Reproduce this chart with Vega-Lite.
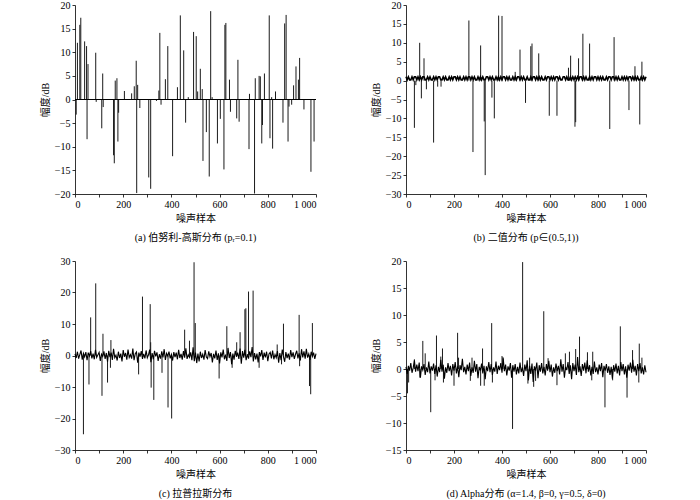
{
  "$schema": "https://vega.github.io/schema/vega-lite/v6.json",
  "padding": {"left": 40, "top": 0, "right": 5, "bottom": 5},
  "background": "white",
  "config": {
    "view": {"stroke": null},
    "font": "Liberation Serif, Noto Sans CJK SC",
    "axis": {
      "grid": false,
      "domainColor": "black",
      "tickColor": "black",
      "labelColor": "black",
      "titleColor": "black",
      "labelFont": "Liberation Serif",
      "labelFontSize": 10,
      "titleFont": "Liberation Serif, Noto Sans CJK SC",
      "titleFontSize": 10,
      "titleFontWeight": "normal",
      "tickSize": 3,
      "domainWidth": 0.8,
      "tickWidth": 0.8,
      "labelPadding": 2,
      "titlePadding": 4
    },
    "title": {"font": "Liberation Serif, Noto Sans CJK SC", "fontSize": 10, "fontWeight": "normal", "color": "black", "orient": "bottom", "offset": 10}
  },
  "datasets": {
    "a_base": [{"x": 0, "y": 0}, {"x": 1000, "y": 0}],
    "a_spikes": [
      {"x": 5, "y": -3.2}, {"x": 10, "y": 12.0}, {"x": 20, "y": 15.8}, {"x": 24, "y": 17.3}, {"x": 40, "y": 12.3},
      {"x": 48, "y": 11.3}, {"x": 50, "y": -8.4}, {"x": 54, "y": 7.5}, {"x": 86, "y": 9.9}, {"x": 88, "y": -0.5},
      {"x": 111, "y": -6.1}, {"x": 115, "y": 5.5}, {"x": 117, "y": -1.6}, {"x": 160, "y": -11.8}, {"x": 163, "y": -13.5},
      {"x": 167, "y": 4.0}, {"x": 174, "y": 4.5}, {"x": 178, "y": -8.9}, {"x": 181, "y": -2.8}, {"x": 205, "y": 1.8},
      {"x": 235, "y": 1.3}, {"x": 246, "y": 2.8}, {"x": 254, "y": 8.2}, {"x": 256, "y": -19.8}, {"x": 260, "y": 3.1},
      {"x": 269, "y": -1.8}, {"x": 306, "y": -16.5}, {"x": 314, "y": -18.9}, {"x": 338, "y": -0.3}, {"x": 348, "y": 1.9},
      {"x": 352, "y": 14.1}, {"x": 357, "y": -1.1}, {"x": 375, "y": 4.3}, {"x": 385, "y": 11.3}, {"x": 405, "y": -12.0},
      {"x": 425, "y": 2.6}, {"x": 437, "y": 17.8}, {"x": 451, "y": 10.4}, {"x": 459, "y": -4.9}, {"x": 470, "y": 0.5},
      {"x": 492, "y": 14.3}, {"x": 503, "y": 13.4}, {"x": 509, "y": 1.7}, {"x": 520, "y": 6.5}, {"x": 528, "y": 2.2},
      {"x": 531, "y": -13.0}, {"x": 545, "y": -6.9}, {"x": 557, "y": -16.3}, {"x": 563, "y": 18.7}, {"x": 569, "y": 0.5},
      {"x": 591, "y": -9.3}, {"x": 603, "y": -4.1}, {"x": 618, "y": -14.8}, {"x": 622, "y": 15.8}, {"x": 626, "y": 16.2},
      {"x": 641, "y": 4.2}, {"x": 645, "y": -2.6}, {"x": 671, "y": -4.0}, {"x": 676, "y": 8.4}, {"x": 681, "y": -4.7},
      {"x": 722, "y": -10.5}, {"x": 724, "y": 1.2}, {"x": 745, "y": -19.9}, {"x": 748, "y": 4.5}, {"x": 764, "y": 5.0},
      {"x": 769, "y": 4.9}, {"x": 775, "y": -9.3}, {"x": 778, "y": -5.4}, {"x": 786, "y": 5.5}, {"x": 806, "y": 17.8},
      {"x": 809, "y": -8.2}, {"x": 816, "y": 0.5}, {"x": 820, "y": -10.4}, {"x": 832, "y": 1.7}, {"x": 863, "y": -4.9},
      {"x": 870, "y": 16.1}, {"x": 876, "y": 17.9}, {"x": 884, "y": -8.9}, {"x": 888, "y": -1.5}, {"x": 899, "y": -1.1},
      {"x": 907, "y": 3.0}, {"x": 917, "y": 7.0}, {"x": 927, "y": 4.2}, {"x": 932, "y": 8.8}, {"x": 950, "y": -2.1},
      {"x": 979, "y": -15.3}, {"x": 992, "y": -8.9}
    ],
    "b_base": [
      {"x": 0, "y": 1}, {"x": 5, "y": 0.2}, {"x": 10, "y": 1}, {"x": 15, "y": 0.2}, {"x": 20, "y": 0.2}, {"x": 25, "y": 1}, {"x": 30, "y": 0.2}, {"x": 35, "y": 1}, {"x": 40, "y": 1}, {"x": 45, "y": 0.2},
      {"x": 50, "y": 1}, {"x": 55, "y": 0.2}, {"x": 60, "y": 1}, {"x": 65, "y": 0.2}, {"x": 70, "y": 1}, {"x": 75, "y": 1}, {"x": 80, "y": 0.2}, {"x": 85, "y": 0.2}, {"x": 90, "y": 1}, {"x": 95, "y": 0.2},
      {"x": 100, "y": 1}, {"x": 105, "y": 0.2}, {"x": 110, "y": 0.2}, {"x": 115, "y": 1}, {"x": 120, "y": 0.2}, {"x": 125, "y": 1}, {"x": 130, "y": 0.2}, {"x": 135, "y": 1}, {"x": 140, "y": 1}, {"x": 145, "y": 0.2},
      {"x": 150, "y": 0.2}, {"x": 155, "y": 1}, {"x": 160, "y": 0.2}, {"x": 165, "y": 1}, {"x": 170, "y": 0.2}, {"x": 175, "y": 0.2}, {"x": 180, "y": 1}, {"x": 185, "y": 0.2}, {"x": 190, "y": 1}, {"x": 195, "y": 0.2},
      {"x": 200, "y": 1}, {"x": 205, "y": 1}, {"x": 210, "y": 0.2}, {"x": 215, "y": 1}, {"x": 220, "y": 0.2}, {"x": 225, "y": 1}, {"x": 230, "y": 0.2}, {"x": 235, "y": 0.2}, {"x": 240, "y": 1}, {"x": 245, "y": 0.2},
      {"x": 250, "y": 1}, {"x": 255, "y": 0.2}, {"x": 260, "y": 1}, {"x": 265, "y": 1}, {"x": 270, "y": 0.2}, {"x": 275, "y": 1}, {"x": 280, "y": 0.2}, {"x": 285, "y": 1}, {"x": 290, "y": 0.2}, {"x": 295, "y": 0.2},
      {"x": 300, "y": 1}, {"x": 305, "y": 0.2}, {"x": 310, "y": 1}, {"x": 315, "y": 0.2}, {"x": 320, "y": 1}, {"x": 325, "y": 0.2}, {"x": 330, "y": 0.2}, {"x": 335, "y": 1}, {"x": 340, "y": 1}, {"x": 345, "y": 0.2},
      {"x": 350, "y": 1}, {"x": 355, "y": 0.2}, {"x": 360, "y": 1}, {"x": 365, "y": 0.2}, {"x": 370, "y": 0.2}, {"x": 375, "y": 1}, {"x": 380, "y": 0.2}, {"x": 385, "y": 1}, {"x": 390, "y": 0.2}, {"x": 395, "y": 1},
      {"x": 400, "y": 0.2}, {"x": 405, "y": 1}, {"x": 410, "y": 1}, {"x": 415, "y": 0.2}, {"x": 420, "y": 1}, {"x": 425, "y": 0.2}, {"x": 430, "y": 1}, {"x": 435, "y": 0.2}, {"x": 440, "y": 0.2}, {"x": 445, "y": 1},
      {"x": 450, "y": 0.2}, {"x": 455, "y": 1}, {"x": 460, "y": 0.2}, {"x": 465, "y": 1}, {"x": 470, "y": 1}, {"x": 475, "y": 0.2}, {"x": 480, "y": 1}, {"x": 485, "y": 0.2}, {"x": 490, "y": 1}, {"x": 495, "y": 0.2},
      {"x": 500, "y": 0.2}, {"x": 505, "y": 1}, {"x": 510, "y": 0.2}, {"x": 515, "y": 0.2}, {"x": 520, "y": 1}, {"x": 525, "y": 0.2}, {"x": 530, "y": 1}, {"x": 535, "y": 1}, {"x": 540, "y": 0.2}, {"x": 545, "y": 1},
      {"x": 550, "y": 0.2}, {"x": 555, "y": 1}, {"x": 560, "y": 0.2}, {"x": 565, "y": 1}, {"x": 570, "y": 0.2}, {"x": 575, "y": 0.2}, {"x": 580, "y": 1}, {"x": 585, "y": 0.2}, {"x": 590, "y": 1}, {"x": 595, "y": 1},
      {"x": 600, "y": 0.2}, {"x": 605, "y": 1}, {"x": 610, "y": 0.2}, {"x": 615, "y": 1}, {"x": 620, "y": 0.2}, {"x": 625, "y": 1}, {"x": 630, "y": 1}, {"x": 635, "y": 0.2}, {"x": 640, "y": 1}, {"x": 645, "y": 0.2},
      {"x": 650, "y": 0.2}, {"x": 655, "y": 1}, {"x": 660, "y": 1}, {"x": 665, "y": 0.2}, {"x": 670, "y": 1}, {"x": 675, "y": 0.2}, {"x": 680, "y": 0.2}, {"x": 685, "y": 1}, {"x": 690, "y": 0.2}, {"x": 695, "y": 1},
      {"x": 700, "y": 0.2}, {"x": 705, "y": 1}, {"x": 710, "y": 0.2}, {"x": 715, "y": 1}, {"x": 720, "y": 0.2}, {"x": 725, "y": 1}, {"x": 730, "y": 1}, {"x": 735, "y": 0.2}, {"x": 740, "y": 1}, {"x": 745, "y": 0.2},
      {"x": 750, "y": 1}, {"x": 755, "y": 0.2}, {"x": 760, "y": 0.2}, {"x": 765, "y": 1}, {"x": 770, "y": 0.2}, {"x": 775, "y": 1}, {"x": 780, "y": 0.2}, {"x": 785, "y": 1}, {"x": 790, "y": 1}, {"x": 795, "y": 0.2},
      {"x": 800, "y": 1}, {"x": 805, "y": 0.2}, {"x": 810, "y": 1}, {"x": 815, "y": 0.2}, {"x": 820, "y": 1}, {"x": 825, "y": 0.2}, {"x": 830, "y": 0.2}, {"x": 835, "y": 1}, {"x": 840, "y": 0.2}, {"x": 845, "y": 1},
      {"x": 850, "y": 1}, {"x": 855, "y": 0.2}, {"x": 860, "y": 1}, {"x": 865, "y": 1}, {"x": 870, "y": 0.2}, {"x": 875, "y": 1}, {"x": 880, "y": 0.2}, {"x": 885, "y": 1}, {"x": 890, "y": 0.2}, {"x": 895, "y": 0.2},
      {"x": 900, "y": 1}, {"x": 905, "y": 0.2}, {"x": 910, "y": 1}, {"x": 915, "y": 0.2}, {"x": 920, "y": 1}, {"x": 925, "y": 0.2}, {"x": 930, "y": 1}, {"x": 935, "y": 1}, {"x": 940, "y": 0.2}, {"x": 945, "y": 1},
      {"x": 950, "y": 0.2}, {"x": 955, "y": 1}, {"x": 960, "y": 0.2}, {"x": 965, "y": 1}, {"x": 970, "y": 0.2}, {"x": 975, "y": 0.2}, {"x": 980, "y": 1}, {"x": 985, "y": 0.2}, {"x": 990, "y": 1}, {"x": 995, "y": 0.2},
      {"x": 1000, "y": 1}
    ],
    "b_spikes": [
      {"x": 35, "y": -12.5}, {"x": 41, "y": -1.2}, {"x": 57, "y": 10.0}, {"x": 64, "y": -4.7}, {"x": 75, "y": 5.9},
      {"x": 85, "y": -2.3}, {"x": 115, "y": -16.4}, {"x": 132, "y": -1.6}, {"x": 146, "y": -1.6}, {"x": 262, "y": 15.9},
      {"x": 279, "y": -18.9}, {"x": 311, "y": 9.3}, {"x": 326, "y": -10.8}, {"x": 330, "y": -25.0}, {"x": 358, "y": -4.5},
      {"x": 368, "y": -10.0}, {"x": 386, "y": 17.2}, {"x": 400, "y": 17.1}, {"x": 455, "y": 2.3}, {"x": 475, "y": 8.2},
      {"x": 498, "y": -5.9}, {"x": 520, "y": 9.1}, {"x": 525, "y": 9.8}, {"x": 553, "y": 7.2}, {"x": 597, "y": -9.3},
      {"x": 629, "y": -9.3}, {"x": 677, "y": 3.4}, {"x": 686, "y": 6.6}, {"x": 704, "y": -12.2}, {"x": 707, "y": -11.0},
      {"x": 719, "y": 5.9}, {"x": 737, "y": 12.4}, {"x": 765, "y": 9.8}, {"x": 849, "y": -12.8}, {"x": 867, "y": 11.5},
      {"x": 929, "y": -7.8}, {"x": 954, "y": 3.8}, {"x": 974, "y": -11.6}, {"x": 983, "y": 5.0}
    ],
    "c_noise": [
      {"x": 0, "y": 0.5}, {"x": 5, "y": -0.8}, {"x": 10, "y": 1.2}, {"x": 15, "y": -1.0}, {"x": 20, "y": 0.3}, {"x": 25, "y": 1.6}, {"x": 30, "y": -1.3}, {"x": 35, "y": 0.7}, {"x": 40, "y": -0.4}, {"x": 45, "y": 1.1},
      {"x": 50, "y": -1.5}, {"x": 55, "y": 0.9}, {"x": 60, "y": -0.2}, {"x": 65, "y": 1.4}, {"x": 70, "y": -0.9}, {"x": 75, "y": 0.6}, {"x": 80, "y": -1.2}, {"x": 85, "y": 1.8}, {"x": 90, "y": -0.6}, {"x": 95, "y": 0.2},
      {"x": 100, "y": 1.0}, {"x": 105, "y": -1.7}, {"x": 110, "y": 0.4}, {"x": 115, "y": -0.3}, {"x": 120, "y": 1.3}, {"x": 125, "y": -1.1}, {"x": 130, "y": 0.8}, {"x": 135, "y": -2.0}, {"x": 140, "y": 1.5}, {"x": 145, "y": -0.5},
      {"x": 150, "y": 0.9}, {"x": 155, "y": -1.4}, {"x": 160, "y": 2.1}, {"x": 165, "y": -0.7}, {"x": 170, "y": 0.1}, {"x": 175, "y": -1.6}, {"x": 180, "y": 1.2}, {"x": 185, "y": -0.8}, {"x": 190, "y": 0.6}, {"x": 195, "y": -1.9},
      {"x": 200, "y": 1.7}, {"x": 205, "y": -0.4}, {"x": 210, "y": 0.8}, {"x": 215, "y": -1.3}, {"x": 220, "y": 1.9}, {"x": 225, "y": -0.6}, {"x": 230, "y": 0.3}, {"x": 235, "y": -1.0}, {"x": 240, "y": 2.2}, {"x": 245, "y": -1.5},
      {"x": 250, "y": 0.6}, {"x": 255, "y": 1.1}, {"x": 260, "y": -2.3}, {"x": 265, "y": 0.9}, {"x": 270, "y": -0.4}, {"x": 275, "y": 1.4}, {"x": 280, "y": -1.1}, {"x": 285, "y": 0.5}, {"x": 290, "y": -0.9}, {"x": 295, "y": 1.6},
      {"x": 300, "y": -0.7}, {"x": 305, "y": 0.2}, {"x": 310, "y": 1.9}, {"x": 315, "y": -2.1}, {"x": 320, "y": 0.8}, {"x": 325, "y": -1.2}, {"x": 330, "y": 1.5}, {"x": 335, "y": -0.3}, {"x": 340, "y": 1.0}, {"x": 345, "y": -1.7},
      {"x": 350, "y": 0.4}, {"x": 355, "y": -1.0}, {"x": 360, "y": 1.3}, {"x": 365, "y": -0.6}, {"x": 370, "y": 2.0}, {"x": 375, "y": -1.4}, {"x": 380, "y": 0.7}, {"x": 385, "y": -0.2}, {"x": 390, "y": 1.2}, {"x": 395, "y": -0.9},
      {"x": 400, "y": 0.3}, {"x": 405, "y": -1.6}, {"x": 410, "y": 1.1}, {"x": 415, "y": -0.5}, {"x": 420, "y": 0.9}, {"x": 425, "y": -1.2}, {"x": 430, "y": 1.8}, {"x": 435, "y": -0.8}, {"x": 440, "y": 0.5}, {"x": 445, "y": -1.3},
      {"x": 450, "y": 1.4}, {"x": 455, "y": -0.7}, {"x": 460, "y": 2.3}, {"x": 465, "y": -1.1}, {"x": 470, "y": 0.2}, {"x": 475, "y": -0.6}, {"x": 480, "y": 1.0}, {"x": 485, "y": -1.5}, {"x": 490, "y": 2.6}, {"x": 495, "y": -1.8},
      {"x": 500, "y": 0.9}, {"x": 505, "y": -2.4}, {"x": 510, "y": 0.6}, {"x": 515, "y": -1.9}, {"x": 520, "y": 1.2}, {"x": 525, "y": -0.8}, {"x": 530, "y": 0.4}, {"x": 535, "y": -1.3}, {"x": 540, "y": 1.7}, {"x": 545, "y": -0.5},
      {"x": 550, "y": -1.0}, {"x": 555, "y": 1.3}, {"x": 560, "y": -0.4}, {"x": 565, "y": 0.8}, {"x": 570, "y": -2.2}, {"x": 575, "y": 0.5}, {"x": 580, "y": -0.9}, {"x": 585, "y": 1.6}, {"x": 590, "y": -1.4}, {"x": 595, "y": 0.7},
      {"x": 600, "y": -2.5}, {"x": 605, "y": 1.0}, {"x": 610, "y": -0.6}, {"x": 615, "y": 1.9}, {"x": 620, "y": -1.2}, {"x": 625, "y": 0.3}, {"x": 630, "y": -1.7}, {"x": 635, "y": 2.4}, {"x": 640, "y": -0.8}, {"x": 645, "y": 1.1},
      {"x": 650, "y": -2.8}, {"x": 655, "y": 0.6}, {"x": 660, "y": -1.3}, {"x": 665, "y": 1.5}, {"x": 670, "y": -0.4}, {"x": 675, "y": 0.9}, {"x": 680, "y": -1.1}, {"x": 685, "y": 2.2}, {"x": 690, "y": -2.6}, {"x": 695, "y": 1.4},
      {"x": 700, "y": -0.7}, {"x": 705, "y": 1.8}, {"x": 710, "y": -1.5}, {"x": 715, "y": 0.4}, {"x": 720, "y": -1.0}, {"x": 725, "y": 1.3}, {"x": 730, "y": -0.5}, {"x": 735, "y": 2.7}, {"x": 740, "y": -1.9}, {"x": 745, "y": 0.8},
      {"x": 750, "y": -1.2}, {"x": 755, "y": 0.6}, {"x": 760, "y": -2.2}, {"x": 765, "y": 1.1}, {"x": 770, "y": -0.3}, {"x": 775, "y": 1.7}, {"x": 780, "y": -1.4}, {"x": 785, "y": 0.9}, {"x": 790, "y": -0.6}, {"x": 795, "y": 1.2},
      {"x": 800, "y": -1.8}, {"x": 805, "y": 0.5}, {"x": 810, "y": 1.0}, {"x": 815, "y": -0.9}, {"x": 820, "y": 1.6}, {"x": 825, "y": -1.2}, {"x": 830, "y": 0.3}, {"x": 835, "y": -0.7}, {"x": 840, "y": 1.4}, {"x": 845, "y": -2.3},
      {"x": 850, "y": 0.8}, {"x": 855, "y": -1.5}, {"x": 860, "y": 1.9}, {"x": 865, "y": -0.4}, {"x": 870, "y": -2.0}, {"x": 875, "y": 1.1}, {"x": 880, "y": -0.8}, {"x": 885, "y": 0.6}, {"x": 890, "y": -1.3}, {"x": 895, "y": 1.7},
      {"x": 900, "y": -0.5}, {"x": 905, "y": 1.0}, {"x": 910, "y": -1.1}, {"x": 915, "y": 0.4}, {"x": 920, "y": 1.5}, {"x": 925, "y": -0.9}, {"x": 930, "y": 0.7}, {"x": 935, "y": -1.6}, {"x": 940, "y": 2.0}, {"x": 945, "y": -0.6},
      {"x": 950, "y": 1.3}, {"x": 955, "y": -1.0}, {"x": 960, "y": 2.1}, {"x": 965, "y": -0.7}, {"x": 970, "y": 0.5}, {"x": 975, "y": -1.4}, {"x": 980, "y": 1.2}, {"x": 985, "y": -0.3}, {"x": 990, "y": 0.9}, {"x": 995, "y": -1.1},
      {"x": 1000, "y": 0.6}
    ],
    "c_spikes": [
      {"x": 35, "y": -25.0}, {"x": 58, "y": -9.2}, {"x": 65, "y": 12.1}, {"x": 86, "y": 22.9}, {"x": 112, "y": -12.8},
      {"x": 116, "y": 6.9}, {"x": 135, "y": -8.6}, {"x": 147, "y": -3.9}, {"x": 149, "y": 4.9}, {"x": 264, "y": -6.0},
      {"x": 280, "y": 18.7}, {"x": 312, "y": 16.3}, {"x": 314, "y": 4.2}, {"x": 316, "y": -10.2}, {"x": 327, "y": -14.1},
      {"x": 361, "y": -5.5}, {"x": 386, "y": -16.5}, {"x": 401, "y": -20.0}, {"x": 455, "y": 8.2}, {"x": 475, "y": 4.7},
      {"x": 494, "y": 29.6}, {"x": 499, "y": 10.3}, {"x": 598, "y": -7.3}, {"x": 630, "y": 9.3}, {"x": 652, "y": -3.9},
      {"x": 671, "y": 4.2}, {"x": 685, "y": 7.4}, {"x": 705, "y": 14.7}, {"x": 709, "y": 15.0}, {"x": 720, "y": 20.3},
      {"x": 739, "y": 20.6}, {"x": 764, "y": -3.9}, {"x": 839, "y": 3.5}, {"x": 857, "y": -2.8}, {"x": 865, "y": 10.1},
      {"x": 930, "y": 12.9}, {"x": 932, "y": -3.4}, {"x": 973, "y": -9.7}, {"x": 978, "y": -12.3}, {"x": 985, "y": 10.3}
    ],
    "d_noise": [
      {"x": 0, "y": 0.4}, {"x": 5, "y": -0.9}, {"x": 10, "y": 0.6}, {"x": 15, "y": -0.3}, {"x": 20, "y": 1.1}, {"x": 25, "y": -0.7}, {"x": 30, "y": 0.2}, {"x": 35, "y": 1.6}, {"x": 40, "y": -0.5}, {"x": 45, "y": 0.8},
      {"x": 50, "y": -0.4}, {"x": 55, "y": 1.2}, {"x": 60, "y": -1.6}, {"x": 65, "y": 0.5}, {"x": 70, "y": -0.2}, {"x": 75, "y": 0.9}, {"x": 80, "y": -1.1}, {"x": 85, "y": 0.3}, {"x": 90, "y": -0.6}, {"x": 95, "y": 1.4},
      {"x": 100, "y": -0.8}, {"x": 105, "y": 0.5}, {"x": 110, "y": -0.3}, {"x": 115, "y": 1.0}, {"x": 120, "y": -0.9}, {"x": 125, "y": 0.7}, {"x": 130, "y": -1.4}, {"x": 135, "y": 0.4}, {"x": 140, "y": -0.6}, {"x": 145, "y": 1.7},
      {"x": 150, "y": -0.5}, {"x": 155, "y": 0.8}, {"x": 160, "y": -1.8}, {"x": 165, "y": 0.3}, {"x": 170, "y": -0.7}, {"x": 175, "y": 1.1}, {"x": 180, "y": -0.4}, {"x": 185, "y": 0.6}, {"x": 190, "y": -1.2}, {"x": 195, "y": 0.9},
      {"x": 200, "y": -0.3}, {"x": 205, "y": 1.3}, {"x": 210, "y": -0.8}, {"x": 215, "y": 0.5}, {"x": 220, "y": -1.5}, {"x": 225, "y": 0.7}, {"x": 230, "y": -0.2}, {"x": 235, "y": 1.9}, {"x": 240, "y": -0.6}, {"x": 245, "y": 0.4},
      {"x": 250, "y": -1.0}, {"x": 255, "y": 0.8}, {"x": 260, "y": -0.4}, {"x": 265, "y": 1.2}, {"x": 270, "y": -1.3}, {"x": 275, "y": 0.3}, {"x": 280, "y": -0.7}, {"x": 285, "y": 1.5}, {"x": 290, "y": -0.5}, {"x": 295, "y": 0.9},
      {"x": 300, "y": -1.7}, {"x": 305, "y": 0.4}, {"x": 310, "y": -0.3}, {"x": 315, "y": 1.0}, {"x": 320, "y": -0.8}, {"x": 325, "y": 0.6}, {"x": 330, "y": -1.9}, {"x": 335, "y": 0.5}, {"x": 340, "y": -0.4}, {"x": 345, "y": 1.3},
      {"x": 350, "y": -0.6}, {"x": 355, "y": 0.9}, {"x": 360, "y": -1.1}, {"x": 365, "y": 0.3}, {"x": 370, "y": -0.5}, {"x": 375, "y": 1.4}, {"x": 380, "y": -0.9}, {"x": 385, "y": 0.6}, {"x": 390, "y": -0.2}, {"x": 395, "y": 1.1},
      {"x": 400, "y": -0.7}, {"x": 405, "y": 2.0}, {"x": 410, "y": -0.4}, {"x": 415, "y": 0.8}, {"x": 420, "y": -1.2}, {"x": 425, "y": 0.5}, {"x": 430, "y": -0.3}, {"x": 435, "y": 1.1}, {"x": 440, "y": -1.6}, {"x": 445, "y": 0.7},
      {"x": 450, "y": -0.5}, {"x": 455, "y": 0.9}, {"x": 460, "y": -1.0}, {"x": 465, "y": 0.4}, {"x": 470, "y": -0.8}, {"x": 475, "y": 1.2}, {"x": 480, "y": -0.6}, {"x": 485, "y": 0.3}, {"x": 490, "y": -1.3}, {"x": 495, "y": 0.8},
      {"x": 500, "y": -0.4}, {"x": 505, "y": 1.6}, {"x": 510, "y": -2.1}, {"x": 515, "y": 0.6}, {"x": 520, "y": -0.9}, {"x": 525, "y": 1.0}, {"x": 530, "y": -2.4}, {"x": 535, "y": 0.5}, {"x": 540, "y": -0.3}, {"x": 545, "y": 1.2},
      {"x": 550, "y": -1.7}, {"x": 555, "y": 0.7}, {"x": 560, "y": -0.5}, {"x": 565, "y": 1.1}, {"x": 570, "y": -0.8}, {"x": 575, "y": 0.4}, {"x": 580, "y": -1.2}, {"x": 585, "y": 0.9}, {"x": 590, "y": -0.3}, {"x": 595, "y": 1.5},
      {"x": 600, "y": -0.6}, {"x": 605, "y": 0.8}, {"x": 610, "y": -1.4}, {"x": 615, "y": 0.3}, {"x": 620, "y": -0.7}, {"x": 625, "y": 1.0}, {"x": 630, "y": -0.4}, {"x": 635, "y": 0.6}, {"x": 640, "y": -1.0}, {"x": 645, "y": 1.8},
      {"x": 650, "y": -0.5}, {"x": 655, "y": 0.9}, {"x": 660, "y": -1.6}, {"x": 665, "y": 0.4}, {"x": 670, "y": -0.2}, {"x": 675, "y": 1.3}, {"x": 680, "y": -0.9}, {"x": 685, "y": 0.7}, {"x": 690, "y": -1.9}, {"x": 695, "y": 1.1},
      {"x": 700, "y": -0.4}, {"x": 705, "y": 0.8}, {"x": 710, "y": -1.1}, {"x": 715, "y": 2.2}, {"x": 720, "y": -0.6}, {"x": 725, "y": 0.5}, {"x": 730, "y": -1.3}, {"x": 735, "y": 0.9}, {"x": 740, "y": -0.3}, {"x": 745, "y": 1.2},
      {"x": 750, "y": -0.8}, {"x": 755, "y": 1.6}, {"x": 760, "y": -0.5}, {"x": 765, "y": 0.7}, {"x": 770, "y": -1.2}, {"x": 775, "y": 0.4}, {"x": 780, "y": -0.9}, {"x": 785, "y": 1.4}, {"x": 790, "y": -0.6}, {"x": 795, "y": 0.3},
      {"x": 800, "y": -1.0}, {"x": 805, "y": 0.8}, {"x": 810, "y": -0.4}, {"x": 815, "y": 1.1}, {"x": 820, "y": -1.5}, {"x": 825, "y": 0.6}, {"x": 830, "y": -0.3}, {"x": 835, "y": 0.9}, {"x": 840, "y": -0.7}, {"x": 845, "y": 0.5},
      {"x": 850, "y": -1.1}, {"x": 855, "y": 0.4}, {"x": 860, "y": -1.8}, {"x": 865, "y": 0.7}, {"x": 870, "y": -0.5}, {"x": 875, "y": 1.0}, {"x": 880, "y": -0.8}, {"x": 885, "y": 0.6}, {"x": 890, "y": -1.2}, {"x": 895, "y": 1.3},
      {"x": 900, "y": -0.4}, {"x": 905, "y": 0.9}, {"x": 910, "y": -1.0}, {"x": 915, "y": 0.5}, {"x": 920, "y": -1.6}, {"x": 925, "y": 0.8}, {"x": 930, "y": -0.3}, {"x": 935, "y": 1.2}, {"x": 940, "y": -0.7}, {"x": 945, "y": 1.7},
      {"x": 950, "y": -0.5}, {"x": 955, "y": 0.6}, {"x": 960, "y": -1.2}, {"x": 965, "y": 0.9}, {"x": 970, "y": -0.4}, {"x": 975, "y": 1.1}, {"x": 980, "y": -0.8}, {"x": 985, "y": 0.3}, {"x": 990, "y": -1.0}, {"x": 995, "y": 0.7},
      {"x": 1000, "y": -0.6}
    ],
    "d_spikes": [
      {"x": 6, "y": -4.5}, {"x": 11, "y": -2.5}, {"x": 35, "y": 1.8}, {"x": 58, "y": -1.6}, {"x": 70, "y": 5.2},
      {"x": 80, "y": 2.9}, {"x": 103, "y": -8.0}, {"x": 121, "y": -2.1}, {"x": 127, "y": 6.2}, {"x": 145, "y": 2.3},
      {"x": 152, "y": 3.8}, {"x": 156, "y": -2.5}, {"x": 200, "y": -3.1}, {"x": 215, "y": 6.7}, {"x": 219, "y": 2.1},
      {"x": 268, "y": -2.2}, {"x": 275, "y": 2.1}, {"x": 311, "y": -3.1}, {"x": 319, "y": 3.8}, {"x": 326, "y": -3.1},
      {"x": 357, "y": 8.5}, {"x": 360, "y": -2.5}, {"x": 400, "y": 2.4}, {"x": 404, "y": 2.2}, {"x": 444, "y": -11.1},
      {"x": 486, "y": 19.8}, {"x": 508, "y": -2.7}, {"x": 515, "y": 2.1}, {"x": 532, "y": -3.3}, {"x": 540, "y": -2.2},
      {"x": 574, "y": 10.7}, {"x": 592, "y": 2.0}, {"x": 629, "y": -3.0}, {"x": 664, "y": 2.9}, {"x": 681, "y": 3.2},
      {"x": 707, "y": 3.7}, {"x": 723, "y": 6.0}, {"x": 756, "y": 3.1}, {"x": 774, "y": -2.1}, {"x": 778, "y": 3.2},
      {"x": 829, "y": -7.1}, {"x": 861, "y": -2.1}, {"x": 893, "y": 7.9}, {"x": 921, "y": -5.3}, {"x": 944, "y": 3.5},
      {"x": 970, "y": -2.5}, {"x": 972, "y": 4.7}, {"x": 983, "y": 2.1}
    ]
  },
  "columns": 2,
  "spacing": {"row": 67, "column": 90},
  "bounds": "flush",
  "concat": [
    {
      "width": 241,
      "height": 189,
      "title": {"text": "(a) 伯努利-高斯分布 (pᵣ=0.1)"},
      "encoding": {
        "x": {"field": "x", "type": "quantitative", "scale": {"domain": [0, 1000], "nice": false},
          "axis": {"title": "噪声样本", "values": [0, 100, 200, 300, 400, 500, 600, 700, 800, 900, 1000], "labelExpr": "datum.value == 1000 ? '1 000' : datum.label"}},
        "y": {"field": "y", "type": "quantitative", "scale": {"domain": [-20, 20], "nice": false},
          "axis": {"title": "幅度/dB", "values": [-20, -15, -10, -5, 0, 5, 10, 15, 20]}}
      },
      "layer": [
        {"data": {"name": "a_spikes"}, "mark": {"type": "rule", "color": "#1a1a1a", "strokeWidth": 1}, "encoding": {"y2": {"datum": 0}}},
        {"data": {"name": "a_base"}, "mark": {"type": "line", "color": "black", "strokeWidth": 1.1}}
      ]
    },
    {
      "width": 240,
      "height": 189,
      "title": {"text": "(b) 二值分布 (p∈(0.5,1))"},
      "encoding": {
        "x": {"field": "x", "type": "quantitative", "scale": {"domain": [0, 1000], "nice": false},
          "axis": {"title": "噪声样本", "values": [0, 100, 200, 300, 400, 500, 600, 700, 800, 900, 1000], "labelExpr": "datum.value == 1000 ? '1 000' : datum.label"}},
        "y": {"field": "y", "type": "quantitative", "scale": {"domain": [-30, 20], "nice": false},
          "axis": {"title": "幅度/dB", "values": [-30, -25, -20, -15, -10, -5, 0, 5, 10, 15, 20]}}
      },
      "layer": [
        {"data": {"name": "b_spikes"}, "mark": {"type": "rule", "color": "#1a1a1a", "strokeWidth": 1}, "encoding": {"y2": {"datum": 0}}},
        {"data": {"name": "b_base"}, "mark": {"type": "line", "color": "black", "strokeWidth": 1.6}}
      ]
    },
    {
      "width": 241,
      "height": 189,
      "title": {"text": "(c) 拉普拉斯分布"},
      "encoding": {
        "x": {"field": "x", "type": "quantitative", "scale": {"domain": [0, 1000], "nice": false},
          "axis": {"title": "噪声样本", "values": [0, 100, 200, 300, 400, 500, 600, 700, 800, 900, 1000], "labelExpr": "datum.value == 1000 ? '1 000' : datum.label"}},
        "y": {"field": "y", "type": "quantitative", "scale": {"domain": [-30, 30], "nice": false},
          "axis": {"title": "幅度/dB", "values": [-30, -20, -10, 0, 10, 20, 30]}}
      },
      "layer": [
        {"data": {"name": "c_spikes"}, "mark": {"type": "rule", "color": "#1a1a1a", "strokeWidth": 1}, "encoding": {"y2": {"datum": 0}}},
        {"data": {"name": "c_noise"}, "mark": {"type": "line", "color": "black", "strokeWidth": 1.1}}
      ]
    },
    {
      "width": 240,
      "height": 189,
      "title": {"text": "(d) Alpha分布 (α=1.4, β=0, γ=0.5, δ=0)"},
      "encoding": {
        "x": {"field": "x", "type": "quantitative", "scale": {"domain": [0, 1000], "nice": false},
          "axis": {"title": "噪声样本", "values": [0, 100, 200, 300, 400, 500, 600, 700, 800, 900, 1000], "labelExpr": "datum.value == 1000 ? '1 000' : datum.label"}},
        "y": {"field": "y", "type": "quantitative", "scale": {"domain": [-15, 20], "nice": false},
          "axis": {"title": "幅度/dB", "values": [-15, -10, -5, 0, 5, 10, 15, 20]}}
      },
      "layer": [
        {"data": {"name": "d_spikes"}, "mark": {"type": "rule", "color": "#1a1a1a", "strokeWidth": 1}, "encoding": {"y2": {"datum": 0}}},
        {"data": {"name": "d_noise"}, "mark": {"type": "line", "color": "black", "strokeWidth": 1.1}}
      ]
    }
  ]
}
